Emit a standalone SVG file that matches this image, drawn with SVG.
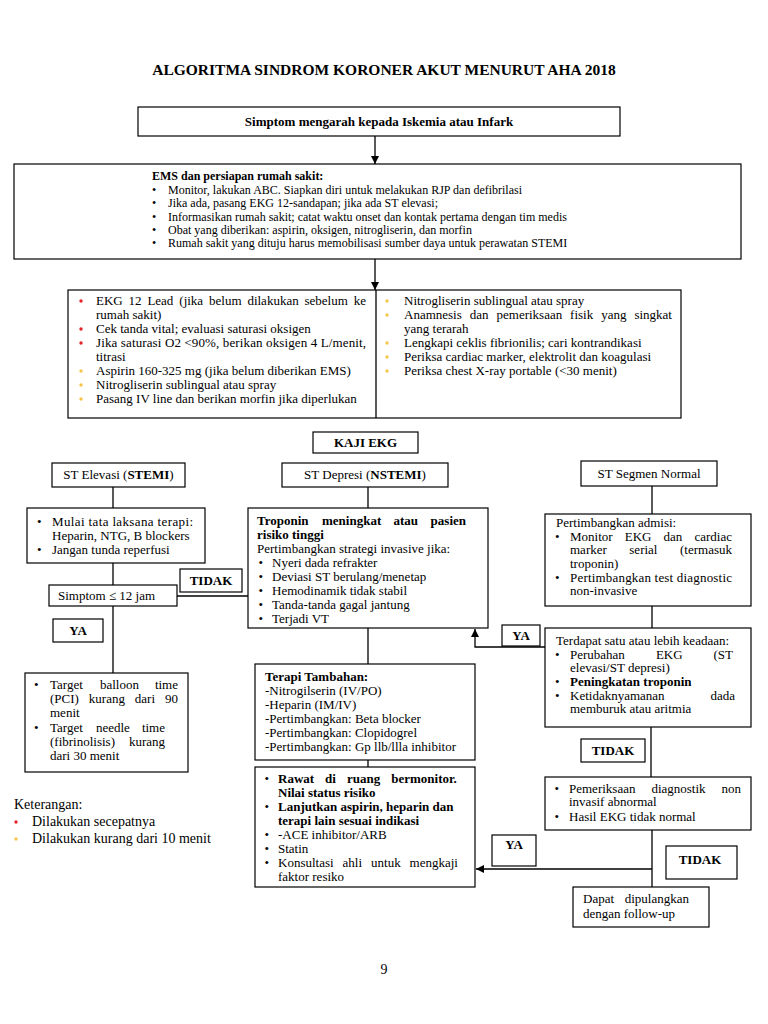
<svg xmlns="http://www.w3.org/2000/svg" width="768" height="1024" viewBox="0 0 768 1024">
<defs>
<style>
.bx{fill:#fff;stroke:#000;stroke-width:1.2}
.t{font-family:"Liberation Serif","Times New Roman",serif;font-size:13px;fill:#000}
.s12{font-size:12px}
.bd{font-weight:bold}
.m{text-anchor:middle}
.ln{stroke:#000;stroke-width:1.3;fill:none}
.red{fill:#e4232a}
.yel{fill:#f6c64a}
</style>
<marker id="ah" markerWidth="8" markerHeight="8" refX="8" refY="4" orient="auto" markerUnits="userSpaceOnUse"><path d="M0,0 L8,4 L0,8 z" fill="#000"/></marker>
</defs>
<rect width="768" height="1024" fill="#fff"/>

<text class="t bd m" x="384" y="75" style="font-size:15.5px">ALGORITMA SINDROM KORONER AKUT MENURUT AHA 2018</text>

<g id="connectors">
<line class="ln" x1="375" y1="136" x2="375" y2="164" marker-end="url(#ah)"/>
<line class="ln" x1="375" y1="259" x2="375" y2="290" marker-end="url(#ah)"/>
<line class="ln" x1="113" y1="487" x2="113" y2="508"/>
<line class="ln" x1="113" y1="563" x2="113" y2="585"/>
<line class="ln" x1="113" y1="606" x2="113" y2="673"/>
<line class="ln" x1="177" y1="596" x2="248" y2="596"/>
<line class="ln" x1="368" y1="487" x2="368" y2="508"/>
<line class="ln" x1="368" y1="628" x2="368" y2="664"/>
<line class="ln" x1="368" y1="760" x2="368" y2="767"/>
<line class="ln" x1="652" y1="486" x2="652" y2="514"/>
<line class="ln" x1="652" y1="606" x2="652" y2="628"/>
<polyline class="ln" points="545,647 475,647 475,629" marker-end="url(#ah)"/>
<line class="ln" x1="651" y1="727" x2="651" y2="777"/>
<line class="ln" x1="652" y1="830" x2="652" y2="887"/>
<line class="ln" x1="652" y1="869" x2="476" y2="869" marker-end="url(#ah)"/>
</g>

<g id="n-symptom">
<rect class="bx" x="138" y="107" width="482" height="29"/>
<text class="t bd m" x="379" y="126">Simptom mengarah kepada Iskemia atau Infark</text>
</g>

<g id="n-ems">
<rect class="bx" x="14" y="164" width="727" height="95"/>
<text class="t s12 bd" x="152" y="180">EMS dan persiapan rumah sakit:</text>
<g class="t s12">
<text x="152" y="194">•</text><text x="168" y="194">Monitor, lakukan ABC. Siapkan diri untuk melakukan RJP dan defibrilasi</text>
<text x="152" y="207">•</text><text x="168" y="207">Jika ada, pasang EKG 12-sandapan; jika ada ST elevasi;</text>
<text x="152" y="221">•</text><text x="168" y="221">Informasikan rumah sakit; catat waktu onset dan kontak pertama dengan tim medis</text>
<text x="152" y="234">•</text><text x="168" y="234">Obat yang diberikan: aspirin, oksigen, nitrogliserin, dan morfin</text>
<text x="152" y="247">•</text><text x="168" y="247">Rumah sakit yang dituju harus memobilisasi sumber daya untuk perawatan STEMI</text>
</g>
</g>

<g id="n-initial">
<rect class="bx" x="68" y="290" width="613" height="128"/>
<line class="ln" x1="376" y1="290" x2="376" y2="418"/>
<circle class="red" cx="81" cy="301" r="1.7"/>
<circle class="red" cx="81" cy="329" r="1.7"/>
<circle class="red" cx="81" cy="343" r="1.7"/>
<circle class="yel" cx="81" cy="371" r="1.7"/>
<circle class="yel" cx="81" cy="385" r="1.7"/>
<circle class="yel" cx="81" cy="399" r="1.7"/>
<circle class="yel" cx="387" cy="301" r="1.7"/>
<circle class="yel" cx="387" cy="315" r="1.7"/>
<circle class="yel" cx="387" cy="343" r="1.7"/>
<circle class="yel" cx="387" cy="357" r="1.7"/>
<circle class="yel" cx="387" cy="371" r="1.7"/>
<g class="t">
<text y="305"><tspan x="96">EKG</tspan><tspan x="128.6">12</tspan><tspan x="147.4">Lead</tspan><tspan x="179.3">(jika</tspan><tspan x="209">belum</tspan><tspan x="247.4">dilakukan</tspan><tspan x="304.5">sebelum</tspan><tspan x="353.7">ke</tspan></text>
<text x="96" y="319">rumah sakit)</text>
<text x="96" y="333">Cek tanda vital; evaluasi saturasi oksigen</text>
<text x="96" y="347" textLength="270" lengthAdjust="spacing">Jika saturasi O2 &lt;90%, berikan oksigen 4 L/menit,</text>
<text x="96" y="361">titrasi</text>
<text x="96" y="375">Aspirin 160-325 mg (jika belum diberikan EMS)</text>
<text x="96" y="389">Nitrogliserin sublingual atau spray</text>
<text x="96" y="403">Pasang IV line dan berikan morfin jika diperlukan</text>
<text x="404" y="305">Nitrogliserin sublingual atau spray</text>
<text y="319"><tspan x="404">Anamnesis</tspan><tspan x="469.7">dan</tspan><tspan x="496.5">pemeriksaan</tspan><tspan x="570.1">fisik</tspan><tspan x="601.2">yang</tspan><tspan x="634.4">singkat</tspan></text>
<text x="404" y="333">yang terarah</text>
<text x="404" y="347">Lengkapi ceklis fibrionilis; cari kontrandikasi</text>
<text x="404" y="361">Periksa cardiac marker, elektrolit dan koagulasi</text>
<text x="404" y="375">Periksa chest X-ray portable (&lt;30 menit)</text>
</g>
</g>

<g id="n-kaji">
<rect class="bx" x="313" y="432" width="105" height="21"/>
<text class="t bd m" x="365.5" y="447">KAJI EKG</text>
</g>

<g id="n-stemi">
<rect class="bx" x="52" y="463" width="133" height="24"/>
<text class="t m" x="118.5" y="479">ST Elevasi (<tspan class="bd">STEMI</tspan>)</text>
</g>

<g id="n-nstemi">
<rect class="bx" x="282" y="463" width="166" height="24"/>
<text class="t m" x="365" y="479">ST Depresi (<tspan class="bd">NSTEMI</tspan>)</text>
</g>

<g id="n-normal">
<rect class="bx" x="581" y="461" width="136" height="25"/>
<text class="t m" x="649" y="478">ST Segmen Normal</text>
</g>

<g id="n-mulai">
<rect class="bx" x="27" y="508" width="178" height="55"/>
<g class="t">
<text x="37" y="526">•</text><text x="52" y="526" textLength="141" lengthAdjust="spacing">Mulai tata laksana terapi:</text>
<text x="52" y="540">Heparin, NTG, B blockers</text>
<text x="37" y="554">•</text><text x="52" y="554">Jangan tunda reperfusi</text>
</g>
</g>

<g id="n-simptom12">
<rect class="bx" x="49" y="585" width="128" height="21"/>
<text class="t" x="58" y="600">Simptom ≤ 12 jam</text>
</g>

<g id="n-tidak1">
<rect class="bx" x="180" y="569" width="62" height="23"/>
<text class="t bd m" x="211" y="585">TIDAK</text>
</g>

<g id="n-ya1">
<rect class="bx" x="53" y="619" width="50" height="23"/>
<text class="t bd m" x="78" y="635">YA</text>
</g>

<g id="n-target">
<rect class="bx" x="25" y="673" width="163" height="99"/>
<g class="t">
<text x="34" y="689">•</text>
<text y="689"><tspan x="50">Target</tspan><tspan x="99.9">balloon</tspan><tspan x="154.9">time</tspan></text>
<text y="703"><tspan x="50">(PCI)</tspan><tspan x="88.8">kurang</tspan><tspan x="134.8">dari</tspan><tspan x="165">90</tspan></text>
<text x="50" y="717">menit</text>
<text x="34" y="732">•</text>
<text y="732"><tspan x="50">Target</tspan><tspan x="95.9">needle</tspan><tspan x="141.9">time</tspan></text>
<text y="746"><tspan x="50">(fibrinolisis)</tspan><tspan x="128.9">kurang</tspan></text>
<text x="50" y="760">dari 30 menit</text>
</g>
</g>

<g id="n-troponin">
<rect class="bx" x="248" y="508" width="240" height="120"/>
<g class="t">
<text class="bd" y="524.5"><tspan x="257">Troponin</tspan><tspan x="322">meningkat</tspan><tspan x="393.5">atau</tspan><tspan x="430.6">pasien</tspan></text>
<text class="bd" x="257" y="538.5">risiko tinggi</text>
<text x="257" y="552.5">Pertimbangkan strategi invasive jika:</text>
<text x="258.5" y="566.5">•</text><text x="272" y="566.5">Nyeri dada refrakter</text>
<text x="258.5" y="580.5">•</text><text x="272" y="580.5">Deviasi ST berulang/menetap</text>
<text x="258.5" y="594.5">•</text><text x="272" y="594.5">Hemodinamik tidak stabil</text>
<text x="258.5" y="608.5">•</text><text x="272" y="608.5">Tanda-tanda gagal jantung</text>
<text x="258.5" y="622.5">•</text><text x="272" y="622.5">Terjadi VT</text>
</g>
</g>

<g id="n-ya2">
<rect class="bx" x="502" y="625" width="38" height="21"/>
<text class="t bd m" x="521" y="640">YA</text>
</g>

<g id="n-terapi">
<rect class="bx" x="255" y="664" width="220" height="96"/>
<g class="t">
<text class="bd" x="265" y="681">Terapi Tambahan:</text>
<text x="265" y="695">-Nitrogilserin (IV/PO)</text>
<text x="265" y="709">-Heparin (IM/IV)</text>
<text x="265" y="723">-Pertimbangkan: Beta blocker</text>
<text x="265" y="737">-Pertimbangkan: Clopidogrel</text>
<text x="265" y="751">-Pertimbangkan: Gp llb/llla inhibitor</text>
</g>
</g>

<g id="n-rawat">
<rect class="bx" x="255" y="767" width="220" height="120"/>
<g class="t">
<text x="264.5" y="782.5">•</text>
<text class="bd" y="782.5"><tspan x="278">Rawat</tspan><tspan x="325.1">di</tspan><tspan x="347">ruang</tspan><tspan x="391.2">bermonitor.</tspan></text>
<text class="bd" x="278" y="796.5">Nilai status risiko</text>
<text x="264.5" y="810.5">•</text>
<text class="bd" x="278" y="810.5">Lanjutkan aspirin, heparin dan</text>
<text class="bd" x="278" y="824.5">terapi lain sesuai indikasi</text>
<text x="264.5" y="838.5">•</text><text x="278" y="838.5">-ACE inhibitor/ARB</text>
<text x="264.5" y="852.5">•</text><text x="278" y="852.5">Statin</text>
<text x="264.5" y="866.5">•</text>
<text y="866.5"><tspan x="278">Konsultasi</tspan><tspan x="342.6">ahli</tspan><tspan x="371.1">untuk</tspan><tspan x="409.6">mengkaji</tspan></text>
<text x="278" y="880.5">faktor resiko</text>
</g>
</g>

<g id="n-admisi">
<rect class="bx" x="545" y="514" width="206" height="92"/>
<g class="t">
<text x="556" y="526.5">Pertimbangkan admisi:</text>
<text x="555" y="540.5">•</text>
<text y="540.5"><tspan x="570">Monitor</tspan><tspan x="624.7">EKG</tspan><tspan x="663.5">dan</tspan><tspan x="694.5">cardiac</tspan></text>
<text y="554"><tspan x="570">marker</tspan><tspan x="629.3">serial</tspan><tspan x="680">(termasuk</tspan></text>
<text x="570" y="567.5">troponin)</text>
<text x="555" y="581.5">•</text><text x="570" y="581.5" textLength="162" lengthAdjust="spacing">Pertimbangkan test diagnostic</text>
<text x="570" y="595">non-invasive</text>
</g>
</g>

<g id="n-terdapat">
<rect class="bx" x="545" y="628" width="206" height="99"/>
<g class="t">
<text x="556" y="644.5">Terdapat satu atau lebih keadaan:</text>
<text x="555" y="658.5">•</text>
<text y="658.5"><tspan x="570">Perubahan</tspan><tspan x="655.9">EKG</tspan><tspan x="713.5">(ST</tspan></text>
<text x="570" y="672">elevasi/ST depresi)</text>
<text x="555" y="685.5">•</text><text class="bd" x="570" y="685.5">Peningkatan troponin</text>
<text x="555" y="699.5">•</text>
<text y="699.5"><tspan x="570">Ketidaknyamanan</tspan><tspan x="710.5">dada</tspan></text>
<text x="570" y="713">memburuk atau aritmia</text>
</g>
</g>

<g id="n-tidak2">
<rect class="bx" x="581" y="739" width="64" height="23"/>
<text class="t bd m" x="613" y="755">TIDAK</text>
</g>

<g id="n-pemeriksaan">
<rect class="bx" x="545" y="777" width="206" height="53"/>
<g class="t">
<text x="554.5" y="792.5">•</text>
<text y="792.5"><tspan x="569">Pemeriksaan</tspan><tspan x="651.4">diagnostik</tspan><tspan x="721.5">non</tspan></text>
<text x="569" y="806">invasif abnormal</text>
<text x="554.5" y="820.5">•</text><text x="569" y="820.5">Hasil EKG tidak normal</text>
</g>
</g>

<g id="n-ya3">
<rect class="bx" x="492" y="835" width="44" height="31"/>
<text class="t bd m" x="514" y="849">YA</text>
</g>

<g id="n-tidak3">
<rect class="bx" x="666" y="846" width="71" height="33"/>
<text class="t bd m" x="700" y="864">TIDAK</text>
</g>

<g id="n-pulang">
<rect class="bx" x="573" y="887" width="136" height="40"/>
<g class="t">
<text y="903"><tspan x="583">Dapat</tspan><tspan x="624.7">dipulangkan</tspan></text>
<text x="583" y="917.5">dengan follow-up</text>
</g>
</g>

<g id="legend">
<text class="t" x="14" y="809" style="font-size:14px">Keterangan:</text>
<circle class="red" cx="16" cy="822" r="1.7"/>
<circle class="yel" cx="16" cy="839" r="1.7"/>
<text class="t" x="32" y="826" style="font-size:14px">Dilakukan secepatnya</text>
<text class="t" x="32" y="843" style="font-size:14px">Dilakukan kurang dari 10 menit</text>
</g>

<text class="t m" x="384" y="974" style="font-size:14px">9</text>
</svg>
